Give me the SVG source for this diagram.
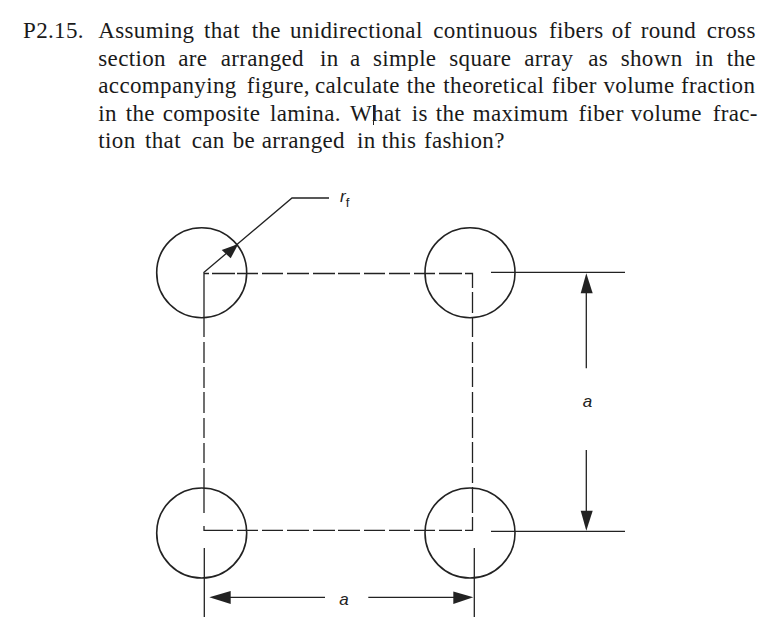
<svg xmlns="http://www.w3.org/2000/svg" width="780" height="641" viewBox="0 0 780 641">
<style>
.t{font-family:"Liberation Serif","Times New Roman",serif;font-size:23px;letter-spacing:.35px;fill:#1a1a1a}
.l{font-family:"Liberation Sans",Arial,sans-serif;font-size:17px;font-style:italic;fill:#222}
.c{fill:none;stroke:#222;stroke-width:1.6}
.s{fill:none;stroke:#222;stroke-width:1.3}
.h{fill:#222}
</style>
<rect width="780" height="641" fill="#fff"/>
<g id="problem-text">
<text class="t" y="38"><tspan x="23">P2.15.</tspan> <tspan x="98.3">Assuming</tspan> <tspan x="204">that</tspan> <tspan x="251.7">the</tspan> <tspan x="290">unidirectional</tspan> <tspan x="433.3">continuous</tspan> <tspan x="549">fibers</tspan> <tspan x="611.7">of</tspan> <tspan x="640.7">round</tspan> <tspan x="706.7">cross</tspan></text>
<text class="t" y="66"><tspan x="98.3">section</tspan> <tspan x="178.3">are</tspan> <tspan x="220.7">arranged</tspan> <tspan x="320">in</tspan> <tspan x="350">a</tspan> <tspan x="373">simple</tspan> <tspan x="449.3">square</tspan> <tspan x="524.3">array</tspan> <tspan x="588.3">as</tspan> <tspan x="620.7">shown</tspan> <tspan x="695">in</tspan> <tspan x="726.7">the</tspan></text>
<text class="t" y="93"><tspan x="98.3">accompanying</tspan> <tspan x="246.7">figure,</tspan> <tspan x="315">calculate</tspan> <tspan x="406.7">the</tspan> <tspan x="443.3">theoretical</tspan> <tspan x="551.7">fiber</tspan> <tspan x="603.5">volume</tspan> <tspan x="681">fraction</tspan></text>
<text class="t" y="120.7"><tspan x="98.3">in</tspan> <tspan x="125.7">the</tspan> <tspan x="162.7">composite</tspan> <tspan x="270">lamina.</tspan> <tspan x="350">What</tspan> <tspan x="411.7">is</tspan> <tspan x="435.7">the</tspan> <tspan x="472.7">maximum</tspan> <tspan x="578.5">fiber</tspan> <tspan x="630.7">volume</tspan> <tspan x="712.7">frac-</tspan></text>
<text class="t" y="148"><tspan x="98.3">tion</tspan> <tspan x="145">that</tspan> <tspan x="191.7">can</tspan> <tspan x="232.7">be</tspan> <tspan x="261.7">arranged</tspan> <tspan x="357">in</tspan> <tspan x="381.7">this</tspan> <tspan x="424">fashion?</tspan></text>
<path d="M373.5 105V125" stroke="#222" stroke-width="1" fill="none"/>
</g>
<g id="fiber-tl"><circle class="c" cx="201.7" cy="272.7" r="45"/></g>
<g id="fiber-tr"><circle class="c" cx="470" cy="272.7" r="45"/></g>
<g id="fiber-bl"><circle class="c" cx="201.7" cy="533" r="45"/></g>
<g id="fiber-br"><circle class="c" cx="470" cy="533" r="45"/></g>
<g id="connectors">
<path class="s" d="M203.5 272.7 292 198H329"/>
<polygon class="h" points="238.3,244 221.7,250 230.7,258.3"/>
<path class="s" d="M204 337V273.5H209M212 273.5H235M237 273.5H258M262 273.5H283M287 273.5H309M313 273.5H335M338 273.5H360M364 273.5H385M389 273.5H410M414 273.5H435M439 273.5H462M465 273.5H472.5V288M472.5 292V313M472.5 318V337M472.5 342V363M472.5 367V387M472.5 392V413M472.5 417V438M472.5 442V463M472.5 467V483M472.5 487V513M472.5 517V530.3H465M462 530.3H439M435 530.3H414M410 530.3H389M385 530.3H364M360 530.3H338M335 530.3H313M309 530.3H287M283 530.3H262M258 530.3H237M233 530.3H204V526M204 513V468M204 463V443M204 438V418M204 413V392M204 388V367M204 363V342"/>
<path class="s" d="M491 272.3H625M491 531.3H625M204.3 548V617M474.3 548V617M586.3 368.3V290M586.3 450V512M228 597.3H325M368.3 597.3H455"/>
<polygon class="h" points="586.3,273.3 580.7,293.3 592.7,293.3"/>
<polygon class="h" points="586.3,530.7 580.7,510.7 592.7,510.7"/>
<polygon class="h" points="209.3,597.3 230.7,591 230.7,604"/>
<polygon class="h" points="473.3,597.3 453.3,591.5 453.3,604"/>
</g>
<g id="labels">
<text class="l" x="340" y="202">r<tspan font-size="13" font-style="normal" dy="4.5">f</tspan></text>
<text class="l" x="582.7" y="407.3">a</text>
<text class="l" x="339.3" y="605">a</text>
</g>
</svg>
